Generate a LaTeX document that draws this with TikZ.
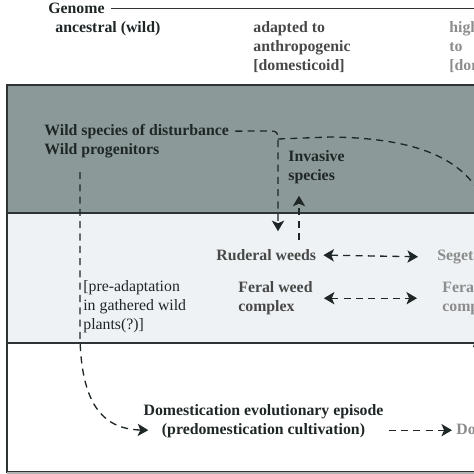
\documentclass[tikz,border=0pt]{standalone}
\usepackage{fontspec}
\setmainfont{Liberation Serif}
\usetikzlibrary{arrows.meta}
\definecolor{ink}{HTML}{1F2626}
\definecolor{midgray}{HTML}{484848}
\definecolor{lightgray}{HTML}{8C8C8C}
\definecolor{bandtop}{HTML}{8B9A98}
\definecolor{bandmid}{HTML}{EEF2F4}
\definecolor{edge}{HTML}{2E3333}
\tikzset{
  lbl/.style={font=\fontsize{9}{10.8}\selectfont\bfseries, inner sep=0pt, align=left, text=ink},
  plain/.style={font=\fontsize{9}{10.8}\selectfont, inner sep=0pt, align=left, text=ink},
  dl/.style={draw=ink, line width=0.75pt, dash pattern=on 4pt off 3pt},
  tip/.style={-{Stealth[length=6pt,width=7pt,inset=1.5pt]}},
  tips/.style={{Stealth[length=6pt,width=7pt,inset=1.5pt]}-{Stealth[length=6pt,width=7pt,inset=1.5pt]}},
  band/.style={draw=edge, line width=0.9pt}
}
\begin{document}
\begin{tikzpicture}[x=0.02cm,y=-0.02cm]
\useasboundingbox (0,0) rectangle (474,474);
\clip (0,0) rectangle (474,474);
% bands
\draw[band, fill=bandtop] (7,85) rectangle (500,213);
\draw[band, fill=bandmid] (7,213) rectangle (500,343);
\draw[band, fill=white] (7,343) rectangle (500,472);
\draw[draw=black!30, line width=1.5pt] (7,473) -- (500,473);
% header (multi-line nodes sit on their last line)
\node[lbl, anchor=base west] (genome) at (48,13.5) {Genome};
\draw[edge, line width=0.8pt] ([xshift=0.12cm]genome.east) -- ++(9cm,0);
\node[lbl, anchor=base west] (ancestral) at (55,32) {ancestral (wild)};
\node[lbl, anchor=base west, text=midgray] (adapted) at (253,70) {adapted to\\anthropogenic\\{[domesticoid]}};
\node[lbl, anchor=base west, text=lightgray] (highly) at (449,70) {highly adapted\\to\\{[domesticated]}};
% upper band
\node[lbl, anchor=base west] (wild) at (44,135) {Wild species of disturbance};
\node[lbl, anchor=base west] (progen) at (44,154) {Wild progenitors};
\node[lbl, anchor=base west] (invasive) at (288,180) {Invasive\\species};
% middle band
\node[lbl, anchor=base west, text=midgray] (ruderal) at (216,260.5) {Ruderal weeds};
\node[lbl, anchor=base west, text=lightgray] (segetal) at (437,260.5) {Segetal weeds};
\node[plain, anchor=base west] (preadapt) at (83,329) {{[pre-adaptation}\\in gathered wild\\plants(?)]};
\node[lbl, anchor=base west, text=midgray] (feralw) at (238,311.5) {Feral weed\\complex};
\node[lbl, anchor=base west, text=lightgray] (feralc) at (442,311.5) {Feral crop\\complex};
% lower band
\node[lbl, anchor=base, align=center] (dom) at (263.5,434) {Domestication evolutionary episode\\(predomestication cultivation)};
\node[lbl, anchor=base west, text=lightgray] (domest) at (456,434) {Domesticated crops};
% connectors
\coordinate (fork) at (278,139);
\draw[dl, tip, shorten >=0.36cm] ([xshift=0.12cm]wild.east) -- (272,131) .. controls (277,131) and (278,134) .. (fork) -- (fork |- ruderal.north);
\draw[dl, tip, shorten >=0.2cm] (fork) -- (330,137) .. controls (410,138) and (455,155) .. (478,190) .. controls (490,210) and (490,230) .. (segetal.north);
\coordinate (upfoot) at (299,240);
\draw[dl, tip, shorten >=0.24cm] (upfoot) -- (upfoot |- invasive.south);
\coordinate (drop) at (80,172);
\draw[dl, tip] (drop) -- (80,340) .. controls (82,400) and (100,429) .. ([xshift=0.1cm]dom.west |- domest.west);
\draw[dl, tips] ([xshift=0.14cm]ruderal.east) -- ([xshift=-0.38cm]segetal.west);
\draw[dl, tips] ([xshift=0.22cm]feralw.east) -- ([xshift=-0.5cm]feralw.east -| feralc.west);
\draw[dl, tip, shorten <=0.1cm, shorten >=0.08cm] (dom.east |- domest.west) -- (domest.west);
\coordinate (risefoot) at (490,400);
\draw[dl, tip, shorten >=0.42cm] (risefoot) -- ([xshift=-0.1cm]feralc.south);
\end{tikzpicture}
\end{document}
